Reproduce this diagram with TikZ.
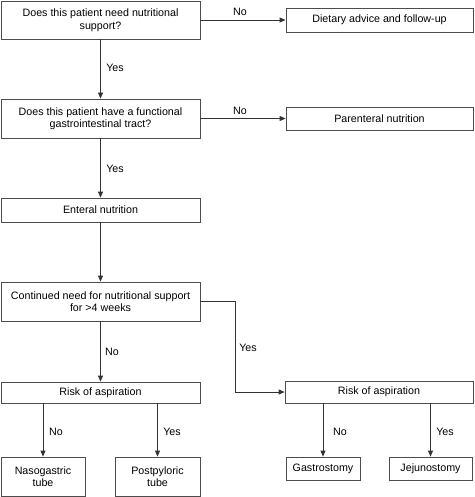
\documentclass[tikz,border=0pt]{standalone}
\usepackage{fontspec}
\setmainfont{Liberation Sans}
\usetikzlibrary{arrows.meta}
\begin{document}
\begin{tikzpicture}[x=1pt,y=-1pt,
  box/.style={draw=black!70, line width=0.8pt, fill=white, inner sep=0pt, align=center,
    font=\fontsize{10.7pt}{12.5pt}\selectfont},
  lbl/.style={inner sep=0pt, font=\fontsize{10.7pt}{12.5pt}\selectfont},
  arr/.style={draw=black!80, line width=0.8pt, -{Triangle[length=6pt,width=5pt]}}]
\useasboundingbox (0,0) rectangle (474,497);
\node[box, minimum width=199pt, minimum height=38pt] (q1) at (100.5,20) {Does this patient need nutritional\\support?};
\node[box, minimum width=187pt, minimum height=24pt] (diet) at (379.5,20) {Dietary advice and follow-up};
\node[box, minimum width=199pt, minimum height=39pt] (q2) at (100.5,118.5) {Does this patient have a functional\\gastrointestinal tract?};
\node[box, minimum width=187pt, minimum height=23pt] (par) at (379.5,118.5) {Parenteral nutrition};
\node[box, minimum width=199pt, minimum height=24pt] (ent) at (100.5,210) {Enteral nutrition};
\node[box, minimum width=199pt, minimum height=39pt] (cont) at (100.5,301.5) {Continued need for nutritional support\\for >4 weeks};
\node[box, minimum width=199pt, minimum height=21pt] (risk1) at (100.5,392.5) {Risk of aspiration};
\node[box, minimum width=188pt, minimum height=22pt] (risk2) at (379,392) {Risk of aspiration};
\node[box, minimum width=84pt, minimum height=39pt] (naso) at (43,476.5) {Nasogastric\\tube};
\node[box, minimum width=85pt, minimum height=39pt] (post) at (157.5,476.5) {Postpyloric\\tube};
\node[box, minimum width=74pt, minimum height=23pt] (gast) at (323,468.5) {Gastrostomy};
\node[box, minimum width=83pt, minimum height=23pt] (jej) at (430.5,468.5) {Jejunostomy};
\coordinate (bend) at (235,301.5);
\draw[arr] (q1.east) -- (diet.west);
\draw[arr] (q2.east) -- (par.west);
\draw[arr] (q1.south) -- (q2.north);
\draw[arr] (q2.south) -- (ent.north);
\draw[arr] (ent.south) -- (cont.north);
\draw[arr] (cont.south) -- (risk1.north);
\draw[arr] (cont.east) -- (bend) |- (risk2.west);
\draw[arr] (risk1.south -| naso.north) -- (naso.north);
\draw[arr] (risk1.south -| post.north) -- (post.north);
\draw[arr] (risk2.south -| gast.north) -- (gast.north);
\draw[arr] (risk2.south -| jej.north) -- (jej.north);
\node[lbl] (l1) at (240,12) {No};
\node[lbl] (l2) at (240,111) {No};
\node[lbl] (l3) at (115,68) {Yes};
\node[lbl] (l4) at (115,169) {Yes};
\node[lbl] (l5) at (112,352) {No};
\node[lbl] (l6) at (248,348) {Yes};
\node[lbl] (l7) at (56,432) {No};
\node[lbl] (l8) at (172,432) {Yes};
\node[lbl] (l9) at (340,432) {No};
\node[lbl] (l10) at (445,432) {Yes};
\end{tikzpicture}
\end{document}
